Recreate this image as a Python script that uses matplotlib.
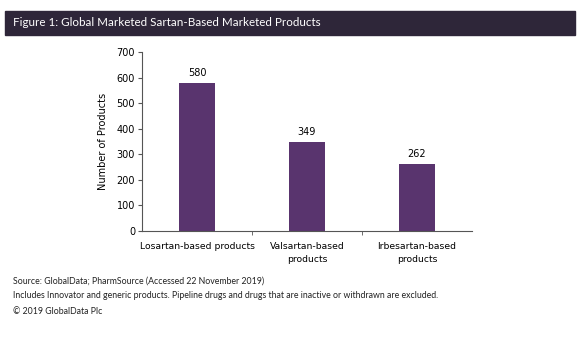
import matplotlib.pyplot as plt
from matplotlib.patches import Rectangle

categories = ["Losartan-based products", "Valsartan-based\nproducts", "Irbesartan-based\nproducts"]
values = [580, 349, 262]
yticks = [0, 100, 200, 300, 400, 500, 600, 700]

title = "Figure 1: Global Marketed Sartan-Based Marketed Products"
notes = [
    "Source: GlobalData; PharmSource (Accessed 22 November 2019)",
    "Includes Innovator and generic products. Pipeline drugs and drugs that are inactive or withdrawn are excluded.",
    "\u00a9 2019 GlobalData Plc",
]

plt.rcParams['font.family'] = ['DejaVu Sans']
W, H = 579, 342
fig = plt.figure(figsize=(W / 100, H / 100), dpi=100)

# title bar
fig.patches.append(Rectangle((5 / W, 1 - 35 / H), 570 / W, 24 / H,
                             transform=fig.transFigure, color='#2e2639', zorder=0))
fig.text(13 / W, 1 - 23 / H, title, color='white', fontsize=8.4, va='center',
         family='Lato')

ax = fig.add_axes([142 / W, 1 - 231 / H, 330 / W, 179 / H])
x = range(len(values))
ax.bar(x, values, width=0.32, color='#59346e')
for i, v in enumerate(values):
    ax.text(i, v + 18, str(v), ha='center', va='bottom', fontsize=7,
            family='DejaVu Sans')

ax.set_xlim(-0.5, 2.5)
ax.set_ylim(0, 700)
ax.set_yticks(yticks)
ax.set_xticks(list(x))
ax.set_xticklabels(categories, fontsize=6.7, linespacing=1.5, family='DejaVu Sans')
ax.set_yticklabels([str(t) for t in yticks], fontsize=7, family='DejaVu Sans')
ax.set_xticks([0.5, 1.5], minor=True)
ax.tick_params(axis='x', which='major', length=0, pad=8)
ax.tick_params(axis='x', which='minor', length=3, direction='out', color='#555555')
ax.tick_params(axis='y', length=3, color='#555555', pad=2)
ax.set_ylabel("Number of Products", fontsize=7, labelpad=6, family='DejaVu Sans')
for s in ['top', 'right']:
    ax.spines[s].set_visible(False)
for s in ['left', 'bottom']:
    ax.spines[s].set_color('#555555')
    ax.spines[s].set_linewidth(0.8)

for i, n in enumerate(notes):
    fig.text(13 / W, 1 - (281 + i * 15) / H, n, fontsize=6.3, va='center',
             color='#222222', family='Lato')

fig.savefig('out.png', dpi=100)
